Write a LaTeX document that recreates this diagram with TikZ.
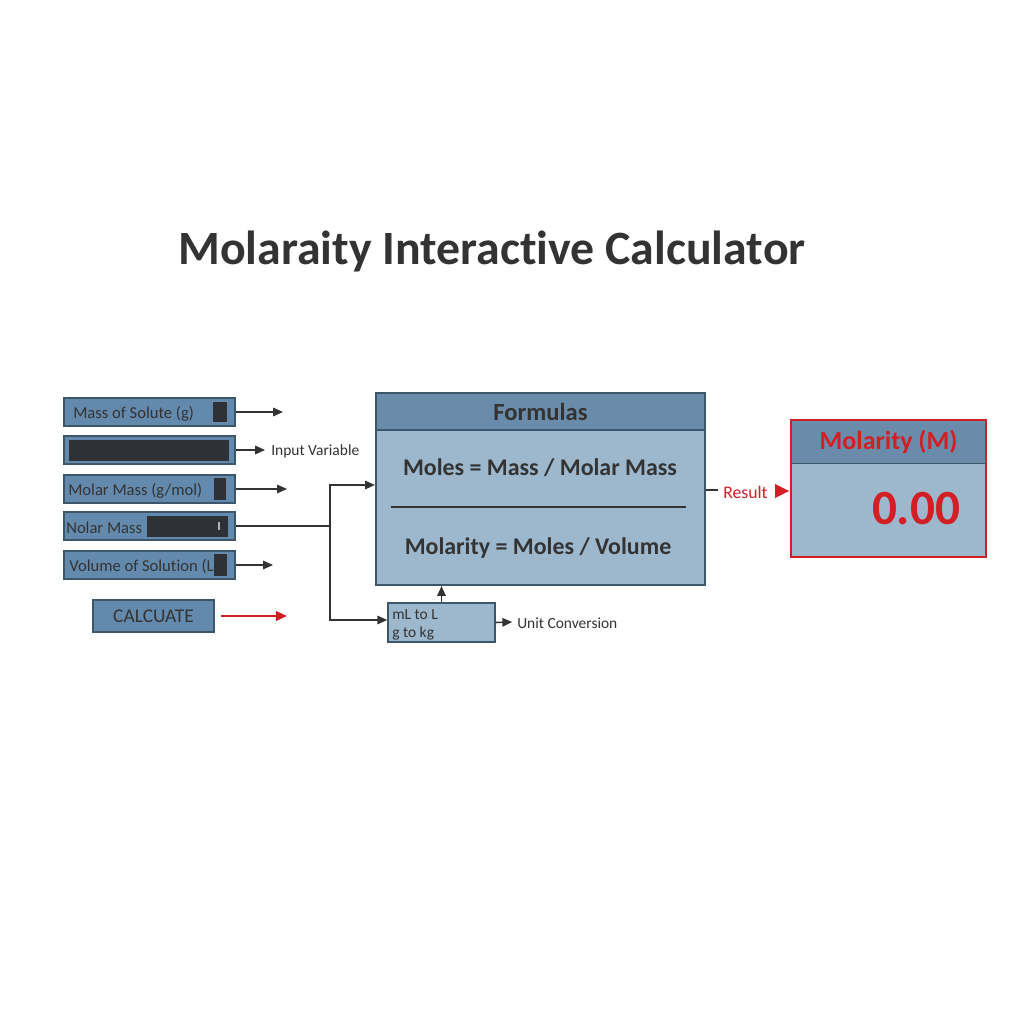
\documentclass[tikz,border=0pt]{standalone}
\usepackage{fontspec}
\setmainfont{Carlito}[Ligatures=NoCommon]
\usetikzlibrary{arrows.meta}
\definecolor{boxblue}{HTML}{6389AC}
\definecolor{headblue}{HTML}{6A8BAA}
\definecolor{bodyblue}{HTML}{9DB7CD}
\definecolor{bord}{HTML}{3C566C}
\definecolor{slotc}{HTML}{2E3236}
\definecolor{txt}{HTML}{333333}
\definecolor{redc}{HTML}{D21F26}
\tikzset{
  inbox/.style={draw=bord, fill=boxblue, line width=1.2pt, inner sep=0pt, minimum width=4.275cm, minimum height=0.7cm},
  slot/.style={fill=slotc, inner sep=0pt},
  lbl/.style={text=txt, font=\fontsize{11.8}{13}\selectfont, inner sep=0pt},
  side/.style={text=txt, font=\fontsize{11}{13}\selectfont, inner sep=0pt},
  arr/.style={draw=txt, line width=1.1pt, -{Triangle[length=7pt,width=6pt]}},
  plain/.style={draw=txt, line width=1.1pt},
}
\begin{document}
\begin{tikzpicture}[x=0.025cm,y=-0.025cm]
\useasboundingbox[fill=white] (0,0) rectangle (1024,1024);
% title
\node[text=txt, font=\bfseries\fontsize{34}{40}\selectfont, inner sep=0pt] (title) at (492,251) {Molaraity Interactive Calculator};

% input boxes
\node[inbox] (in1) at (149.5,412) {};
\node[slot, minimum width=0.35cm, minimum height=0.5cm] (s1) at (220,412) {};
\node[lbl, anchor=west] (t1) at (73,414) {Mass of Solute (g)};

\node[inbox] (in2) at (149.5,450) {};
\node[slot, minimum width=4cm, minimum height=0.525cm] (s2) at (149,450.5) {};

\node[inbox] (in3) at (149.5,489) {};
\node[slot, minimum width=0.3cm, minimum height=0.55cm] (s3) at (220,489) {};
\node[lbl, anchor=west] (t3) at (68,491) {Molar Mass (g/mol)};

\node[inbox] (in4) at (149.5,526) {};
\node[slot, minimum width=2.025cm, minimum height=0.525cm] (s4) at (187.5,526.5) {};
\node[fill=gray!60, inner sep=0pt, minimum width=0.06cm, minimum height=0.2cm] (s4m) at (219,526) {};
\node[lbl, anchor=west] (t4) at (66,528) {Nolar Mass};

\node[inbox] (in5) at (149.5,565) {};
\node[slot, minimum width=0.325cm, minimum height=0.55cm] (s5) at (220.5,565) {};
\node[lbl, anchor=west] (t5) at (69,567) {Volume of Solution (L};

\node[draw=bord, fill=boxblue, line width=1.2pt, inner sep=0pt, minimum width=3.025cm, minimum height=0.8cm, text=txt, font=\fontsize{13.8}{16}\selectfont] (calc) at (153.5,616) {CALCUATE};

% arrows from inputs
\coordinate (e1) at (283,412);
\coordinate (e3) at (287,489);
\coordinate (e5) at (273,565);
\coordinate (ec) at (287,616);
\draw[arr] (in1.east) -- (e1);
\draw[arr] (in3.east) -- (e3);
\draw[arr] (in5.east) -- (e5);
\node[side, anchor=west] (iv) at (271,451) {Input Variable};
\draw[arr] (in2.east) -- ([xshift=-0.15cm,yshift=0.025cm]iv.west);
\draw[draw=redc, line width=1.4pt, -{Triangle[length=8pt,width=7pt]}] ([xshift=0.15cm]calc.east) -- (ec);

% formulas box
\node[fill=bodyblue, inner sep=0pt, minimum width=8.225cm, minimum height=4.8cm] (form) at (540.5,489) {};
\node[fill=headblue, inner sep=0pt, minimum width=8.225cm, minimum height=0.925cm, anchor=north, text=txt, font=\bfseries\fontsize{17.5}{20}\selectfont] (fhead) at (form.north) {Formulas};
\draw[bord, line width=1.2pt] (fhead.south west) -- (fhead.south east);
\node[draw=bord, line width=1.5pt, inner sep=0pt, minimum width=8.225cm, minimum height=4.8cm] (formb) at (540.5,489) {};
\node[text=txt, font=\bfseries\fontsize{17}{20}\selectfont, inner sep=0pt] (f1) at (540,468) {Moles = Mass / Molar Mass};
\draw[txt, line width=1.1pt] (391,507) -- (686,507);
\node[text=txt, font=\bfseries\fontsize{17}{20}\selectfont, inner sep=0pt] (f2) at (538,548) {Molarity = Moles / Volume};

% unit conversion box
\node[draw=bord, fill=bodyblue, line width=1pt, inner sep=0pt, minimum width=2.675cm, minimum height=0.975cm] (uc) at (441.5,622.5) {};
\node[lbl, anchor=west, font=\fontsize{11}{13}\selectfont] (uc1) at (392,615) {mL to L};
\node[lbl, anchor=west, font=\fontsize{11}{13}\selectfont] (uc2) at (392,633) {g to kg};
\draw[arr] (uc.north) -- (formb.south -| uc.north);
\node[side, anchor=west] (ucl) at (517,623) {Unit Conversion};
\draw[arr] (uc.east) -- ([xshift=-0.12cm,yshift=0.025cm]ucl.west);

% junction
\coordinate (j) at (330,526);
\coordinate (jt) at (330,485);
\coordinate (jb) at (330,620);
\draw[plain] (in4.east) -- (j);
\draw[arr] (jb) -- (jt) -- (formb.west |- jt);
\draw[arr] (j) -- (jb) -- (uc.west |- jb);

% result
\node[text=redc, font=\fontsize{12.6}{15}\selectfont, inner sep=0pt, anchor=west] (res) at (723,492) {Result};
\coordinate (r0) at (718,490);
\draw[plain] (formb.east |- r0) -- (r0);

% molarity box
\node[fill=bodyblue, inner sep=0pt, minimum width=4.875cm, minimum height=3.425cm] (mol) at (888.5,488.5) {};
\node[fill=headblue, inner sep=0pt, minimum width=4.875cm, minimum height=1.075cm, anchor=north, text=redc, font=\bfseries\fontsize{18.5}{22}\selectfont] (mhead) at (mol.north) {Molarity (M)};
\draw[bord, line width=1pt] (mhead.south west) -- (mhead.south east);
\node[draw=redc, line width=1.8pt, inner sep=0pt, minimum width=4.875cm, minimum height=3.425cm] (molb) at (888.5,488.5) {};
\node[text=redc, font=\bfseries\fontsize{35}{40}\selectfont, inner sep=0pt] (val) at (916,509) {0.00};
\fill[redc] (775,484) -- (789,491) -- (775,498) -- cycle;
\end{tikzpicture}
\end{document}
